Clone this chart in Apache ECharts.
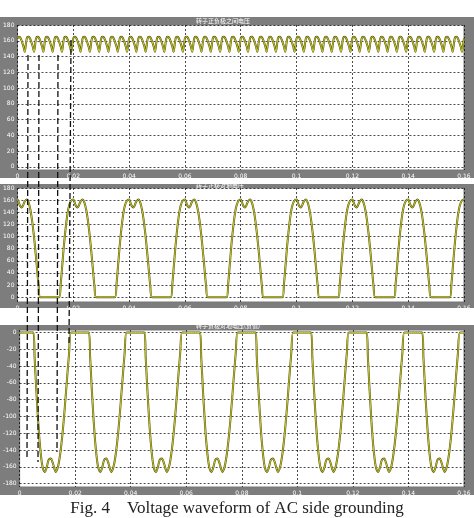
<!DOCTYPE html>
<html>
<head>
<meta charset="utf-8"/>
<title>ECharts</title>
<script src="https://cdn.jsdelivr.net/npm/echarts@6/dist/echarts.min.js"></script>
<style>body{margin:0;background:#fff}</style>
</head>
<body>
<div id="main" style="width:474px;height:518px"></div>
<script type="text/javascript">
// one period, time in ms, value in V
var diffPeriod = [[0,163],[0.5,165],[1.0,164],[1.6,159],[2.2,152],[2.6,146],[2.9,152],[3.333,163]];
var posPeriod = [[0,161],[0.4,157],[0.8,152],[1.2,149],[1.6,148],[2.0,151],[2.5,157],[3.0,160],[3.4,161],[4.0,156],[4.6,145],[5.2,128],[5.8,105],[6.4,78],[7.0,48],[7.6,18],[8.2,0],[14.9,0],[15.5,22],[16.1,55],[16.7,88],[17.3,115],[17.9,137],[18.5,151],[19.2,159],[20,161]];
var negPeriod = [[0,0],[4.9,0],[5.4,-30],[6.0,-68],[6.6,-102],[7.2,-130],[7.8,-150],[8.4,-162],[9.1,-166],[9.8,-160],[10.4,-152],[11.2,-150],[12.0,-156],[12.6,-163],[13.0,-166],[13.8,-160],[14.6,-145],[15.4,-122],[16.2,-92],[17.0,-58],[17.8,-25],[18.5,0],[20,0]];
var titles = ['转子正负极之间电压', '转子正极对地电压', '转子负极对地电压(负值)'];
var xTicks = [0, 0.02, 0.04, 0.06, 0.08, 0.1, 0.12, 0.14, 0.16];
var yTicks1 = [0, 20, 40, 60, 80, 100, 120, 140, 160, 180];
var yTicks3 = [0, -20, -40, -60, -80, -100, -120, -140, -160, -180];

function tile(p, T, tEnd) {
    var out = [];
    for (var k = 0; k * T < tEnd; k++) {
        p.forEach(function (d, i) {
            if (k > 0 && i === 0) return;
            var t = (k * T + d[0]) / 1000;
            if (t <= 0.16) out.push([t, d[1]]);
        });
    }
    return out;
}
var diffData = tile(diffPeriod, 3.3333, 160);
var posData = tile(posPeriod, 20, 160);
var negData = tile(negPeriod, 20, 160);

var chart = echarts.init(document.getElementById('main'));
var grids = [
    {left: 17, right: 10, top: 25, height: 145},
    {left: 13, right: 10, top: 188, height: 114},
    {left: 17, right: 10, top: 330, height: 157}
];
var yRanges = [[-4, 180, yTicks1], [-8, 180, yTicks1], [-184, 3, yTicks3]];
var lab = {color: '#fff', fontSize: 6, fontFamily: 'DejaVu Sans'};
var xAxes = [], yAxes = [], series = [];
grids.forEach(function (g, i) {
    g.show = true; g.backgroundColor = '#fff'; g.borderColor = '#777'; g.borderWidth = 1;
    xAxes.push({
        type: 'value', gridIndex: i, min: 0, max: 0.16, interval: 0.02,
        axisLine: {show: false}, axisTick: {show: false},
        axisLabel: Object.assign({margin: 3, formatter: function (v) { return v === 0 ? '0' : +v.toFixed(2) + ''; }}, lab),
        splitLine: {lineStyle: {color: '#000', type: [2, 2], width: 0.7}}
    });
    var r = yRanges[i];
    yAxes.push({
        type: 'value', gridIndex: i, min: r[0], max: r[1],
        axisLine: {show: false},
        axisTick: {show: false, customValues: r[2]},
        axisLabel: Object.assign({margin: 3, customValues: r[2]}, lab),
        splitLine: {lineStyle: {color: '#000', type: [2, 2], width: 0.7}}
    });
});
[diffData, posData, negData].forEach(function (d, i) {
    series.push({type: 'line', xAxisIndex: i, yAxisIndex: i, data: d, smooth: 0.3, showSymbol: false,
        lineStyle: {color: '#55550f', width: 2}, silent: true, animation: false});
    series.push({type: 'line', xAxisIndex: i, yAxisIndex: i, data: d, smooth: 0.3, showSymbol: false,
        lineStyle: {color: '#e8e83a', width: 0.8}, silent: true, animation: false});
});

var frame = {fill: '#7d7d7d'};
var dash = {stroke: '#111', lineWidth: 1.3, lineDash: [6, 3]};
var option = {
    backgroundColor: '#fff',
    grid: grids, xAxis: xAxes, yAxis: yAxes, series: series,
    graphic: [
        {type: 'rect', z: -10, shape: {x: 0, y: 17, width: 474, height: 161}, style: frame},
        {type: 'rect', z: -10, shape: {x: 0, y: 184, width: 474, height: 124}, style: frame},
        {type: 'rect', z: -10, shape: {x: 0, y: 325, width: 474, height: 170}, style: frame},
        {type: 'text', left: 196, top: 18, style: {text: titles[0], fill: '#fff', font: '6px "Noto Sans CJK SC"'}},
        {type: 'text', left: 196, top: 183, style: {text: titles[1], fill: '#fff', font: '6px "Noto Sans CJK SC"'}},
        {type: 'text', left: 196, top: 323, style: {text: titles[2], fill: '#fff', font: '6px "Noto Sans CJK SC"'}},
        {type: 'line', z: 100, shape: {x1: 28, y1: 55, x2: 27, y2: 460}, style: dash},
        {type: 'line', z: 100, shape: {x1: 39, y1: 55, x2: 38, y2: 462}, style: dash},
        {type: 'line', z: 100, shape: {x1: 58, y1: 55, x2: 57, y2: 452}, style: dash},
        {type: 'line', z: 100, shape: {x1: 71, y1: 40, x2: 69, y2: 345}, style: dash},
        {type: 'text', left: 'center', top: 500, style: {text: 'Fig. 4    Voltage waveform of AC side grounding', fill: '#222', font: '17px "Liberation Serif"'}}
    ]
};
chart.setOption(option);
</script>
</body>
</html>
